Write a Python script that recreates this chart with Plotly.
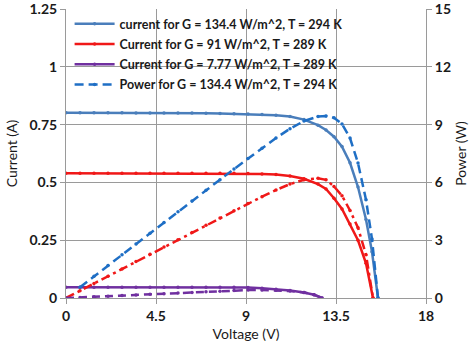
import plotly.graph_objects as go

# ---- data ----
v_blue = [0, 0.7, 1.4, 2.1, 2.8, 3.5, 4.2, 4.9, 5.6, 6.3, 7.0, 7.7, 8.4, 9.1, 9.8, 10.5,
          11.2, 11.9, 12.6, 13.0, 13.4, 13.8, 14.2, 14.6, 15.0, 15.3, 15.6]
i_blue = [0.802, 0.802, 0.802, 0.802, 0.802, 0.801, 0.801, 0.801, 0.800, 0.800, 0.799, 0.798,
          0.797, 0.796, 0.794, 0.791, 0.785, 0.772, 0.748, 0.727, 0.698, 0.655, 0.585, 0.480,
          0.340, 0.200, 0.0]
p_blue = [0, 0.561, 1.123, 1.684, 2.246, 2.804, 3.364, 3.925, 4.480, 5.040, 5.593, 6.145,
          6.695, 7.244, 7.781, 8.306, 8.792, 9.187, 9.425, 9.451, 9.353, 9.039, 8.307, 7.008,
          5.100, 3.060, 0.0]

v_red = [0, 0.7, 1.4, 2.1, 2.8, 3.5, 4.2, 4.9, 5.6, 6.3, 7.0, 7.7, 8.4, 9.1, 9.8, 10.5,
         11.2, 11.9, 12.6, 13.0, 13.4, 13.8, 14.2, 14.6, 15.0, 15.35]
i_red = [0.540, 0.540, 0.540, 0.540, 0.540, 0.540, 0.540, 0.540, 0.540, 0.540, 0.540, 0.540,
         0.540, 0.539, 0.537, 0.534, 0.528, 0.516, 0.493, 0.472, 0.432, 0.385, 0.320, 0.250,
         0.150, 0.0]
p_red = [0, 0.378, 0.756, 1.134, 1.512, 1.890, 2.268, 2.646, 3.024, 3.402, 3.780, 4.158,
         4.536, 4.905, 5.263, 5.607, 5.914, 6.140, 6.212, 6.136, 5.789, 5.313, 4.544, 3.650,
         2.250, 0.0]

v_pur = [0, 0.7, 1.4, 2.1, 2.8, 3.5, 4.2, 4.9, 5.6, 6.3, 7.0, 7.7, 8.4, 9.1, 9.8, 10.5,
         11.2, 11.9, 12.4, 12.8]
i_pur = [0.046, 0.046, 0.046, 0.046, 0.046, 0.046, 0.046, 0.046, 0.046, 0.046, 0.046, 0.046,
         0.046, 0.045, 0.042, 0.038, 0.032, 0.024, 0.014, 0.0]
p_pur = [0, 0.032, 0.064, 0.097, 0.129, 0.161, 0.193, 0.225, 0.258, 0.290, 0.322, 0.354,
         0.386, 0.410, 0.412, 0.399, 0.358, 0.286, 0.174, 0.0]

names = ["current for G = 134.4 W/m^2, T = 294 K",
         "Current for G = 91 W/m^2, T = 289 K",
         "Current for G = 7.77 W/m^2, T = 289 K",
         "Power for G = 134.4 W/m^2, T = 294 K"]

x_ticks = [0, 4.5, 9, 13.5, 18]
y_ticks = [0, 0.25, 0.5, 0.75, 1, 1.25]
y_ticktext = ["0", "0.25", "0.5", "0.75", "1", "1.25"]
y2_ticks = [0, 3, 6, 9, 12, 15]

C_BLUE = "#4A7EBB"
C_PBLUE = "#1F6FC5"
C_RED = "#F01818"
C_PUR = "#7030A0"
GRID = "#9A9A9A"
FONT = "Lato"

fig = go.Figure()

# current traces (left axis)
fig.add_trace(go.Scatter(x=v_blue, y=i_blue, mode="lines+markers",
                         line=dict(color=C_BLUE, width=2.5),
                         marker=dict(size=3.5, color=C_BLUE),
                         name=names[0], legendgroup="g1"))
fig.add_trace(go.Scatter(x=v_red, y=i_red, mode="lines+markers",
                         line=dict(color=C_RED, width=2.5),
                         marker=dict(size=3.5, color=C_RED),
                         name=names[1], legendgroup="g2"))
fig.add_trace(go.Scatter(x=v_pur, y=i_pur, mode="lines+markers",
                         line=dict(color=C_PUR, width=2.5),
                         marker=dict(size=3.5, color=C_PUR),
                         name=names[2], legendgroup="g3"))

# power traces (right axis)
fig.add_trace(go.Scatter(x=v_blue[1:], y=p_blue[1:], yaxis="y2", mode="lines+markers",
                         line=dict(color=C_PBLUE, width=2.5, dash="9px,5px"),
                         marker=dict(size=3.5, color=C_PBLUE),
                         name=names[3], legendgroup="g4"))
fig.add_trace(go.Scatter(x=v_red, y=p_red, yaxis="y2", mode="lines+markers",
                         line=dict(color=C_RED, width=2.5, dash="9px,4px,3px,4px"),
                         marker=dict(size=3.5, color=C_RED),
                         showlegend=False, legendgroup="g4"))
fig.add_trace(go.Scatter(x=v_pur, y=p_pur, yaxis="y2", mode="lines+markers",
                         line=dict(color=C_PUR, width=2.5, dash="8px,5px"),
                         marker=dict(size=3.5, color=C_PUR),
                         showlegend=False, legendgroup="g4"))

tickfont = dict(family=FONT, size=14, color="#1a1a1a", weight="bold")
titlefont = dict(family=FONT, size=14, color="#1a1a1a")

fig.update_layout(
    width=474, height=349,
    margin=dict(l=66, r=48, t=9, b=51, autoexpand=False),
    paper_bgcolor="white", plot_bgcolor="white",
    font=dict(family=FONT, color="#1a1a1a"),
    showlegend=True,
    legend=dict(x=0.01, y=1.0, xanchor="left", yanchor="top",
                bgcolor="rgba(0,0,0,0)", borderwidth=0, traceorder="grouped",
                font=dict(family=FONT, size=12.5, color="#1a1a1a", weight="bold"),
                itemwidth=40, tracegroupgap=1),
    xaxis=dict(range=[0, 18], tickvals=x_ticks, ticktext=[str(t) for t in x_ticks],
               showline=True, linecolor=GRID, linewidth=1,
               showgrid=True, gridcolor=GRID, gridwidth=1, zeroline=False,
               ticks="outside", ticklen=5, tickcolor=GRID, automargin=False,
               tickfont=tickfont,
               title=dict(text="Voltage (V)", font=titlefont, standoff=6)),
    yaxis=dict(range=[0, 1.2505], tickvals=y_ticks, ticktext=y_ticktext,
               showline=True, linecolor=GRID, linewidth=1,
               showgrid=True, gridcolor=GRID, gridwidth=1, zeroline=False,
               ticks="outside", ticklen=5, tickcolor=GRID, automargin=False,
               tickfont=tickfont, ticklabeloverflow="allow",
               title=dict(text="Current (A)", font=titlefont, standoff=8)),
    yaxis2=dict(range=[0, 15.006], tickvals=y2_ticks, ticktext=[str(t) for t in y2_ticks],
                overlaying="y", side="right",
                showline=True, linecolor=GRID, linewidth=1,
                showgrid=False, zeroline=False,
                ticks="outside", ticklen=5, tickcolor=GRID, automargin=False,
                tickfont=tickfont, ticklabeloverflow="allow",
                title=dict(text="Power (W)", font=titlefont, standoff=6)),
)

fig.write_html("out.html")
